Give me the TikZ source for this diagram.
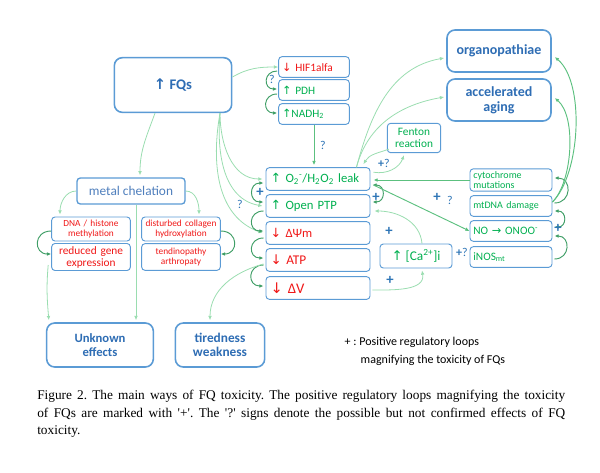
\documentclass[tikz,border=0pt]{standalone}
\usepackage{fontspec}
\setmainfont{Carlito}
\newfontfamily\arrfont{DejaVu Sans}
\newfontfamily\capfont{Liberation Serif}[Ligatures=TeXOff]
\usetikzlibrary{arrows.meta,calc}
\definecolor{boxblue}{HTML}{5B9BD5}
\definecolor{txtblue}{HTML}{2E6DB4}
\definecolor{plusblue}{HTML}{2E75B6}
\definecolor{chelblue}{HTML}{4F7FBD}
\definecolor{grn}{HTML}{00B050}
\definecolor{rd}{HTML}{F01818}
\definecolor{linegreen}{HTML}{9ADDB0}
\definecolor{midgreen}{HTML}{5CC07F}
\definecolor{loopgreen}{HTML}{3F9E66}
\newcommand{\uparr}{{\arrfont\char"2191}}
\newcommand{\dnarr}{{\arrfont\char"2193}}
\newcommand{\rtarr}{{\arrfont\char"2192}}
\frenchspacing

\begin{document}
\begin{tikzpicture}[x=0.75pt,y=-0.75pt,>={Latex[length=3.2pt,width=2.8pt]},
    box/.style={draw=boxblue,fill=white,rounded corners=2.5pt,line width=0.7pt,inner sep=2pt,align=center},
    bigbox/.style={box,line width=1.2pt,rounded corners=6pt,text=txtblue},
    colbox/.style={box,minimum height=17pt,text width=71pt,align=left,inner xsep=3.5pt,font=\fontsize{9.5}{10}\selectfont},
    topbox/.style={box,minimum height=15.5pt,text width=48pt,align=left,inner xsep=2.5pt,font=\fontsize{8.5}{9}\selectfont},
    sidebox/.style={box,minimum height=15.5pt,text width=56.5pt,align=left,inner xsep=2.5pt,text=grn,font=\fontsize{7.5}{7.5}\selectfont},
    redbox/.style={box,text width=54pt,inner xsep=2.5pt,text=rd},
    plus/.style={text=plusblue,font=\bfseries\fontsize{11}{11}\selectfont,inner sep=0pt},
    qm/.style={text=plusblue,font=\fontsize{9}{9}\selectfont,inner sep=0pt},
    lg/.style={draw=linegreen,line width=0.6pt,->},
    mg/.style={draw=midgreen,line width=0.7pt,->},
    dg/.style={draw=loopgreen,line width=0.7pt,->}]
  \useasboundingbox (0,0) rectangle (600,472);

  % main boxes
  \node[bigbox,minimum width=88pt,minimum height=41pt,font=\bfseries\fontsize{11}{12}\selectfont] (fq) at (173,85) {\uparr\ FQs};
  \node[bigbox,minimum width=78pt,minimum height=31.5pt,font=\bfseries\fontsize{10.5}{11}\selectfont] (organ) at (499,51) {organopathiae};
  \node[bigbox,minimum width=78pt,minimum height=31.5pt,font=\bfseries\fontsize{10.5}{11}\selectfont] (aging) at (499,100) {accelerated\\aging};
  \node[bigbox,minimum width=80pt,minimum height=33pt,font=\bfseries\fontsize{9.5}{11}\selectfont] (unk) at (100,345) {Unknown\\effects};
  \node[bigbox,minimum width=67pt,minimum height=33pt,font=\bfseries\fontsize{10}{11}\selectfont] (tired) at (220,345) {tiredness\\weakness};

  % top column
  \node[topbox,text=rd] (hif) at (314,67) {\dnarr\ HIF1alfa};
  \node[topbox,text=grn] (pdh) at (314,90) {\uparr\ PDH};
  \node[topbox,text=grn] (nadh) at (314,114) {\uparr NADH\textsubscript{2}};

  % main column
  \node[colbox,text=grn] (leak) at (318,179) {\uparr\ O\textsubscript{2}\textsuperscript{-}/H\textsubscript{2}O\textsubscript{2} leak};
  \node[colbox,text=grn] (ptp) at (318,206) {\uparr\ Open PTP};
  \node[colbox,text=rd] (dpsi) at (318,233) {\dnarr\ ΔΨm};
  \node[colbox,text=rd,font=\fontsize{10}{11}\selectfont] (atp) at (318,260) {\dnarr\ ATP};
  \node[colbox,text=rd,font=\fontsize{11}{11}\selectfont] (dv) at (318,288) {\dnarr\ ΔV};

  \node[box,minimum width=40pt,minimum height=22pt,text=grn,font=\fontsize{8.5}{9.5}\selectfont] (fenton) at (414,138) {Fenton\\reaction};
  \node[box,minimum width=54pt,minimum height=18pt,text=grn,font=\fontsize{10}{11}\selectfont] (ca) at (416,256) {\uparr\ [Ca\textsuperscript{2+}]i};

  % right column
  \node[sidebox] (cyt) at (511,180) {cytochrome\\mutations};
  \node[sidebox] (mtdna) at (511,206) {mtDNA damage};
  \node[sidebox,font=\fontsize{8.5}{9}\selectfont] (no) at (511,231) {NO \rtarr\ ONOO\textsuperscript{-}};
  \node[sidebox,font=\fontsize{8.5}{9}\selectfont] (inos) at (511,257) {iNOS\textsubscript{mt}};

  % metal chelation branch
  \node[box,line width=1pt,minimum width=81pt,minimum height=19.5pt,text=chelblue,font=\fontsize{10}{11}\selectfont] (metal) at (131,191) {metal chelation};
  \node[redbox,minimum height=18pt,font=\fontsize{7}{8}\selectfont] (dna) at (91,229) {DNA / histone\\methylation};
  \node[redbox,minimum height=20pt,font=\fontsize{8.5}{9}\selectfont] (gene) at (91,257) {reduced gene\\expression};
  \node[redbox,minimum height=18pt,font=\fontsize{7}{8}\selectfont] (coll) at (181,229) {disturbed collagen\\hydroxylation};
  \node[redbox,minimum height=20pt,font=\fontsize{7}{8}\selectfont] (tendo) at (181,257) {tendinopathy\\arthropaty};

  % connectors from FQs
  \draw[lg] ($(fq.east)+(0,-8)$) to[out=30,in=180] (hif.west);
  \draw[lg] ($(fq.south)+(-18,0)$) to[out=-110,in=90] ($(metal.north)+(9,-2)$);
  \draw[lg] ($(fq.south)+(47,0)$) to[out=-90,in=180] ($(leak.west)+(-3,0)$);
  \draw[lg] ($(fq.south)+(47,0)$) to[out=-95,in=170] ($(ptp.west)+(-3,0)$);
  \draw[lg] ($(fq.south)+(47,0)$) to[out=-100,in=160] ($(dpsi.west)+(-3,0)$);
  \node[qm] (q3) at (240,204) {?};

  % top loops
  \draw[dg] ($(hif.west)+(-1,4)$) to[out=180,in=180,looseness=2] ($(pdh.west)+(-1,-1)$);
  \draw[dg] ($(pdh.west)+(-1,4)$) to[out=180,in=180,looseness=2] ($(nadh.west)+(-1,-1)$);
  \node[qm] (q1) at (272,79) {?};
  \draw[mg] (nadh.south) -- ($(nadh.south |- leak.north)+(0,-2)$);
  \node[qm] (q2) at (323,145) {?};

  % loops of the main column
  \draw[dg,<->] ($(leak.west)+(-2,4)$) to[out=180,in=180,looseness=2] ($(ptp.west)+(-2,-4)$);
  \node[plus] (p1) at (260,192) {+};
  \foreach \a/\b in {ptp/dpsi,dpsi/atp,atp/dv}
    \draw[dg] ($(\a.west)+(-2,5)$) to[out=180,in=180,looseness=2] ($(\b.west)+(-2,-2)$);
  \draw[dg,<->] ($(leak.east)+(2,6)$) to[out=0,in=0,looseness=2] ($(ptp.east)+(2,-4)$);
  \node[plus] (p2) at (376,197) {+};

  % effects of the leak
  \draw[lg] ($(leak.north east)+(-14,0)$) to[out=75,in=190] ($(organ.west)+(-2,7)$);
  \draw[lg] ($(leak.north east)+(-14,0)$) to[out=75,in=190] ($(aging.west)+(-2,-3)$);
  \draw[lg] ($(fenton.south west)+(2,-4)$) to[out=200,in=60] ($(leak.north east)+(-7,-3)$);
  \draw[lg] ($(leak.north east)+(3,5)$) to[out=-10,in=-110] ($(fenton.south)+(-10,2)$);
  \node[qm] (q4) at (384,163) {\textbf{+}?};
  \draw[mg] (cyt.west) -- ($(leak.east)+(3,1)$);
  \draw[mg] ($(leak.east)+(3,6)$) -- (no.west);
  \node[plus] (p3) at (437,197) {+};
  \node[qm] (q5) at (450,200) {?};

  % calcium
  \draw[lg] ($(ca.north)+(6,0)$) to[out=95,in=0] ($(ptp.east)+(4,5)$);
  \node[plus] (p4) at (389,231) {+};
  \draw[lg] ($(dv.east)+(2,2)$) to[out=0,in=-80] ($(ca.south)+(6,2)$);
  \node[plus] (p5) at (390,280) {+};
  \node[qm] (q6) at (462,252) {\textbf{+}?};

  % right column loops
  \draw[dg] ($(mtdna.east)+(2,-3)$) to[out=0,in=0,looseness=1.8] ($(cyt.east)+(2,-2)$);
  \draw[dg,<->] ($(mtdna.east)+(2,5)$) to[out=0,in=0,looseness=2] ($(no.east)+(2,-4)$);
  \node[plus] (p6) at (558,228) {+};
  \draw[dg] ($(inos.east)+(2,2)$) to[out=0,in=0,looseness=1.8] ($(no.east)+(2,5)$);
  \draw[mg] ($(mtdna.east)+(0,-4)$) to[out=45,in=-40,looseness=0.7] ($(organ.east)+(3,6)$);
  \draw[mg] ($(mtdna.east)+(0,-4)$) to[out=45,in=-40,looseness=0.7] ($(aging.east)+(3,-2)$);

  % metal chelation branch
  \draw[lg] (metal.west) to[out=180,in=90] ($(dna.north)+(-31,-2)$);
  \draw[lg] (metal.east) to[out=0,in=90] ($(coll.north)+(18,-2)$);
  \draw[dg] ($(dna.west)+(0,2)$) to[out=180,in=180,looseness=2] ($(gene.west)+(0,-3)$);
  \draw[dg] ($(coll.east)+(0,2)$) to[out=0,in=0,looseness=2] ($(tendo.east)+(0,-3)$);
  \draw[lg] ($(metal.south)+(5,0)$) -- ($(unk.north)+(36,-2)$);
  \draw[lg] ($(gene.west)+(-3,8)$) to[out=-95,in=95] ($(unk.north west)+(3,-2)$);
  \draw[lg] ($(atp.west)+(-2,4)$) to[out=195,in=90] ($(tired.north)+(-10,-2)$);

  % legend and caption
  \node[anchor=west,font=\fontsize{9}{10}\selectfont] (leg1) at (340,342) {+ : Positive regulatory loops};
  \node[anchor=west,font=\fontsize{9}{10}\selectfont] (leg2) at (356,360) {magnifying the toxicity of FQs};
  \node[anchor=north west,text width=396pt,align=justify,inner sep=0pt,
        font=\capfont\fontsize{10}{13.2}\selectfont] (caption) at (37,390)
    {Figure 2. The main ways of FQ toxicity. The positive regulatory loops magnifying the toxicity\linebreak
     of FQs are marked with '+'. The '?' signs denote the possible but not confirmed effects of FQ\linebreak
     toxicity.};
\end{tikzpicture}
\end{document}
